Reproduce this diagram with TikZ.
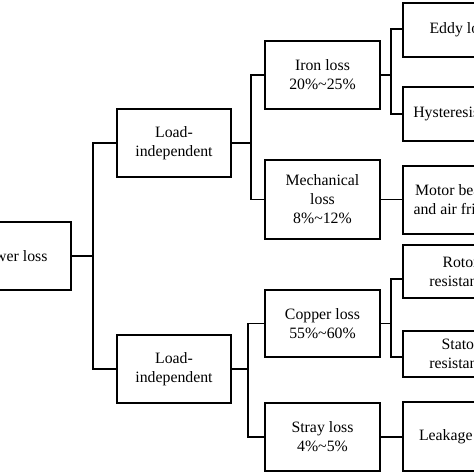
\documentclass[tikz,border=0pt]{standalone}
\usepackage{fontspec}
\setmainfont{Liberation Serif}
\begin{document}
\begin{tikzpicture}[x=1pt,y=-1pt,
  box/.style={draw, line width=1.2pt, inner sep=0pt, minimum width=115pt, align=center,
    font=\fontsize{15.8}{19}\selectfont},
  link/.style={line width=1.2pt}]
\useasboundingbox (0,0) rectangle (474,474);
\clip (0,0) rectangle (474,474);
% column 0
\node[box, minimum width=116pt, minimum height=68pt] (power) at (13,256) {Power loss};
% column 1
\node[box, minimum width=114pt, minimum height=68pt] (load1) at (174,143) {Load-\\independent};
\node[box, minimum width=114pt, minimum height=68pt] (load2) at (174,369) {Load-\\independent};
% column 2
\node[box, minimum height=68pt] (iron) at (322.5,75) {Iron loss\\20\%\char`~25\%};
\node[box, minimum height=79pt] (mech) at (322.5,199.5) {Mechanical\\loss\\8\%\char`~12\%};
\node[box, minimum height=67pt] (copper) at (322.5,323.5) {Copper loss\\55\%\char`~60\%};
\node[box, minimum height=68pt] (stray) at (322.5,437) {Stray loss\\4\%\char`~5\%};
% column 3
\node[box, minimum height=54pt] (eddy) at (460.5,30) {Eddy loss};
\node[box, minimum height=54pt] (hyst) at (460.5,114) {Hysteresis loss};
\node[box, minimum height=68pt] (motor) at (460.5,200) {Motor bearing\\and air friction};
\node[box, minimum height=53pt] (rotor) at (460.5,271.5) {Rotor\\resistance};
\node[box, minimum height=46pt] (stator) at (460.5,354) {Stator\\resistance};
\node[box, minimum height=69pt] (leak) at (460.5,436.5) {Leakage flux};
% junctions
\coordinate (j0) at (93,256);
\coordinate (j1) at (251,143);
\coordinate (j2) at (248,369);
\coordinate (j3) at (391,75);
\coordinate (j4) at (391,323.5);
% connectors
\draw[link] (power.east) -- (j0);
\draw[link] (load1.west) -| (j0) |- (load2.west);
\draw[link] (load1.east) -- (j1);
\draw[link] (iron.west) -| (j1) |- (mech.west);
\draw[link] (load2.east) -- (j2);
\draw[link] (copper.west) -| (j2) |- (stray.west);
\draw[link] (iron.east) -- (j3);
\draw[link] ([yshift=1pt]eddy.west) -| (j3) |- (hyst.west);
\draw[link] (mech.east) -- (mech.east -| motor.west);
\draw[link] (copper.east) -- (j4);
\draw[link] ([yshift=-7.5pt]rotor.west) -| (j4) |- ([yshift=-3pt]stator.west);
\draw[link] (stray.east) -- (stray.east -| leak.west);
\end{tikzpicture}
\end{document}
